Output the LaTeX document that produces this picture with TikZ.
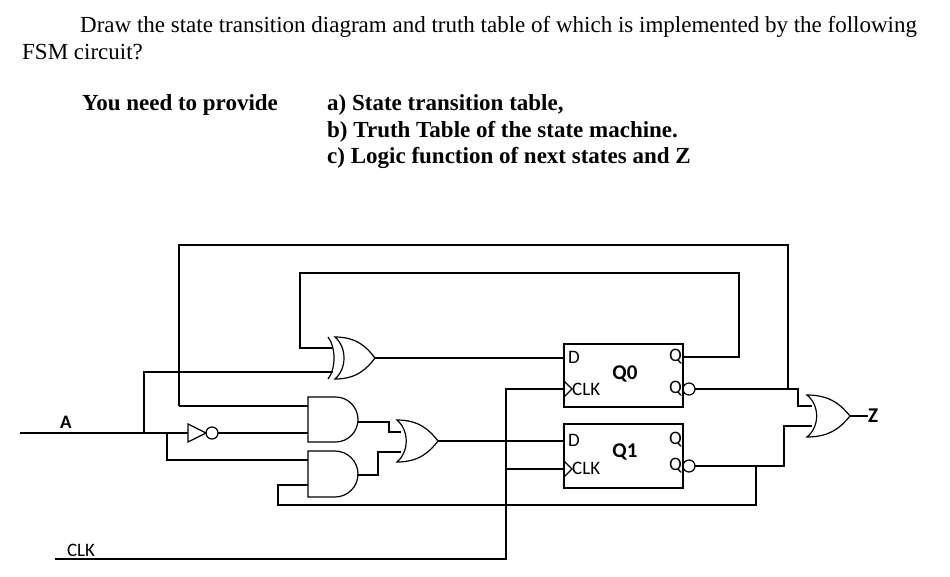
\documentclass[tikz,border=0pt]{standalone}
\usepackage{fontspec}
\setmainfont{Liberation Serif}
\newfontfamily\lbl{Carlito}
\newcommand\orgateshape[4]{% L, T, cy, r
  \draw[gate] (#1,{#3+#4}) .. controls ({#1+0.55*(#2-#1)},{#3+#4}) and ({#2-0.2*(#2-#1)},{#3+0.5*#4}) .. (#2,#3)
   .. controls ({#2-0.2*(#2-#1)},{#3-0.5*#4}) and ({#1+0.55*(#2-#1)},{#3-#4}) .. (#1,{#3-#4})
   .. controls ({#1+0.3*(#2-#1)},{#3-0.5*#4}) and ({#1+0.3*(#2-#1)},{#3+0.5*#4}) .. cycle;}
\begin{document}
\begin{tikzpicture}[x=1pt,y=1pt,
  wire/.style={line width=1.8pt},
  gate/.style={line width=1.2pt},
  txt/.style={inner sep=0pt,anchor=west,font=\fontsize{23}{26}\selectfont},
  btxt/.style={txt,font=\fontsize{23}{26}\selectfont\bfseries},
  pin/.style={inner sep=0pt,font=\lbl\fontsize{19}{20}\selectfont}]
\useasboundingbox (0,0) rectangle (950,-576);
% header text
\node[txt] (t1) at (80,-27) {Draw the state transition diagram and truth table of which is implemented by the following};
\node[txt] (t2) at (22,-52) {FSM circuit?};
\node[btxt] (t3) at (82,-105) {You need to provide};
\node[btxt] (t4) at (327,-105) {a) State transition table,};
\node[btxt] (t5) at (327,-132) {b) Truth Table of the state machine.};
\node[btxt] (t6) at (327,-158) {c) Logic function of next states and Z};
% flip-flops
\draw[wire] (564,-344) rectangle (683,-407);
\draw[wire] (564,-424) rectangle (683,-488);
\draw[gate] (564,-381) -- (572,-389) -- (564,-397);
\draw[gate] (564,-461) -- (572,-469) -- (564,-477);
\node[pin,anchor=west] (d0) at (568,-357) {D};
\node[pin,anchor=west] (c0) at (572,-389) {CLK};
\node[pin,anchor=east] (q0) at (682,-357) {Q};
\node[pin,anchor=east] (qb0) at (682,-389) {Q};
\node[pin,anchor=west] (d1) at (568,-440) {D};
\node[pin,anchor=west] (c1) at (572,-468) {CLK};
\node[pin,anchor=east] (q1) at (682,-440) {Q};
\node[pin,anchor=east] (qb1) at (682,-466) {Q};
\node[inner sep=0pt,font=\lbl\bfseries\fontsize{21}{22}\selectfont] (n0) at (625,-374) {Q0};
\node[inner sep=0pt,font=\lbl\bfseries\fontsize{21}{22}\selectfont] (n1) at (625,-452) {Q1};
\draw[gate] (689,-389) circle (6);
\draw[gate] (689,-466) circle (6);
% gates
\draw[gate] (308,-397) -- (335.5,-397) arc(90:-90:22.5) -- (308,-442) -- cycle;
\draw[gate] (308,-451) -- (335,-451) arc(90:-90:23) -- (308,-497) -- cycle;
\orgateshape{397}{438}{-441}{21}
\orgateshape{335}{375}{-358}{21}
\draw[gate] (328,-337) .. controls (336,-347) and (336,-369) .. (328,-379);
\orgateshape{807}{850}{-416}{21}
\draw[gate] (188,-424) -- (206,-433) -- (188,-442) -- cycle;
\draw[gate] (212,-433) circle (6);
% wires
\draw[wire] (20,-433) -- (188,-433);
\draw[wire] (218,-433) -- (308,-433);
\draw[wire] (144,-433) -- (144,-372) -- (333,-372);
\draw[wire] (167,-433) -- (167,-460) -- (308,-460);
\draw[wire] (179,-406) -- (179,-245) -- (788,-245) -- (788,-389);
\draw[wire] (308,-406) -- (179,-406);
\draw[wire] (333,-348) -- (300,-348) -- (300,-273) -- (739,-273) -- (739,-357) -- (683,-357);
\draw[wire] (375,-358) -- (564,-358);
\draw[wire] (357,-422) -- (389,-422) -- (389,-432) -- (401,-432);
\draw[wire] (357,-475) -- (378,-475) -- (378,-452) -- (401,-452);
\draw[wire] (438,-441) -- (564,-441);
\draw[wire] (55,-559) -- (506,-559) -- (506,-389) -- (564,-389);
\draw[wire] (506,-469) -- (564,-469);
\draw[wire] (695,-389) -- (798,-389) -- (798,-406) -- (812,-406);
\draw[wire] (695,-466) -- (784,-466) -- (784,-426) -- (812,-426);
\draw[wire] (756,-466) -- (756,-505) -- (278,-505) -- (278,-485) -- (308,-485);
\draw[wire] (850,-416) -- (868,-416);
\node[inner sep=0pt,anchor=west,font=\lbl\bfseries\fontsize{21}{22}\selectfont] (z) at (868,-416) {Z};
\node[inner sep=0pt,font=\lbl\bfseries\fontsize{19}{20}\selectfont] (a) at (66,-422) {A};
\node[inner sep=0pt,font=\lbl\fontsize{19}{20}\selectfont] (clk) at (81,-550) {CLK};
\end{tikzpicture}
\end{document}
